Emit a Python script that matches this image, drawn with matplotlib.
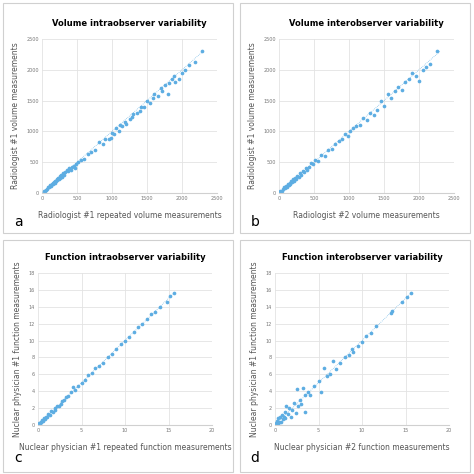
import matplotlib
matplotlib.use("Agg")
import matplotlib.pyplot as plt
from matplotlib.patches import Rectangle

# Panel a: volume intraobserver
a_x = [30,45,60,75,90,100,110,120,130,140,150,160,170,180,190,200,210,220,230,240,250,260,270,280,300,310,330,350,370,390,410,430,450,470,490,520,560,600,650,700,760,820,870,900,950,980,1000,1030,1060,1100,1120,1150,1180,1200,1250,1280,1300,1350,1400,1420,1450,1500,1540,1580,1600,1650,1700,1720,1760,1800,1820,1850,1880,1900,1950,2000,2050,2100,2180,2280]
a_y = [25,40,55,70,95,90,115,130,120,150,170,145,180,160,200,190,230,210,250,230,270,240,290,260,320,290,340,370,350,400,380,420,440,410,470,500,530,560,640,660,700,820,800,880,870,900,980,960,1050,1000,1100,1080,1150,1120,1200,1230,1280,1300,1330,1400,1390,1500,1460,1550,1600,1580,1700,1650,1750,1600,1780,1850,1900,1800,1850,1950,2000,2080,2120,2300]
# Panel b: volume interobserver
b_x = [20,40,55,70,85,100,110,125,140,150,160,175,190,200,215,230,245,260,280,300,320,340,360,380,400,430,460,490,520,560,600,650,700,750,800,850,900,940,980,1020,1060,1100,1150,1200,1250,1300,1350,1400,1450,1500,1550,1600,1650,1700,1750,1800,1850,1900,1950,2000,2050,2100,2150,2250]
b_y = [30,35,60,90,75,110,95,140,125,170,150,190,175,230,200,250,220,280,260,330,300,360,340,400,380,430,480,470,540,520,620,600,700,720,800,850,870,950,920,1000,1050,1080,1100,1220,1180,1300,1260,1350,1500,1420,1600,1550,1650,1720,1680,1800,1850,1950,1900,1820,2000,2050,2100,2300]
# Panel c: function intraobserver
c_x = [0.1,0.2,0.3,0.4,0.5,0.6,0.7,0.8,0.9,1.0,1.2,1.4,1.5,1.7,1.9,2.0,2.2,2.4,2.6,2.8,3.0,3.2,3.5,3.8,4.0,4.3,4.6,5.0,5.4,5.8,6.2,6.6,7.0,7.5,8.0,8.5,9.0,9.5,10.0,10.5,11.0,11.5,12.0,12.5,13.0,13.5,14.0,14.8,15.2,15.6]
c_y = [0.2,0.1,0.4,0.3,0.6,0.5,0.8,0.7,1.0,0.9,1.3,1.2,1.6,1.5,2.0,1.8,2.3,2.2,2.5,2.9,3.0,3.3,3.4,3.9,4.5,4.2,4.6,5.0,5.3,5.9,6.1,6.7,7.0,7.4,8.1,8.4,9.0,9.6,10.0,10.4,11.0,11.6,12.0,12.5,13.1,13.4,14.0,14.6,15.3,15.6]
# Panel d: function interobserver
d_x = [0.1,0.2,0.3,0.4,0.5,0.6,0.7,0.8,0.9,1.0,1.1,1.2,1.3,1.5,1.6,1.8,2.0,2.2,2.4,2.5,2.7,2.9,3.0,3.2,3.4,3.5,3.8,4.0,4.5,5.0,5.3,5.6,6.0,6.3,6.7,7.0,7.5,8.0,8.5,8.8,9.0,9.5,10.0,10.5,11.0,11.6,13.3,13.5,14.6,15.2,15.6]
d_y = [0.2,0.5,0.1,0.8,0.3,1.0,0.4,1.2,0.7,0.9,1.5,0.8,2.2,1.3,2.0,1.0,1.8,2.6,1.4,4.3,2.2,3.0,2.5,4.4,3.5,1.5,3.9,3.6,4.6,5.2,3.9,6.7,5.8,6.0,7.6,6.6,7.3,8.0,8.3,9.0,8.6,9.3,9.8,10.5,10.9,11.7,13.3,13.5,14.6,15.2,15.6]

panels = [
    dict(x=a_x, y=a_y, title="Volume intraobserver variability", xl="Radiologist #1 repeated volume measurements",
         yl="Radiologist #1 volume measurements", lim=2500, step=500, letter="a"),
    dict(x=b_x, y=b_y, title="Volume interobserver variability", xl="Radiologist #2 volume measurements",
         yl="Radiologist #1 volume measurements", lim=2500, step=500, letter="b"),
    dict(x=c_x, y=c_y, title="Function intraobserver variability", xl="Nuclear physician #1 repeated function measurements",
         yl="Nuclear physician #1 function measurements", lim=20, step=5, ylim=18, ystep=2, letter="c"),
    dict(x=d_x, y=d_y, title="Function interobserver variability", xl="Nuclear physician #2 function measurements",
         yl="Nuclear physician #1 function measurements", lim=20, step=5, ylim=18, ystep=2, letter="d"),
]

W = 474.0
fig = plt.figure(figsize=(4.74, 4.74), dpi=100)
col = "#5DADE2"
for i, p in enumerate(panels):
    ox = (i % 2) * 237
    oy = (i // 2) * 237
    bh = 230 if i < 2 else 232
    fig.patches.append(Rectangle(((ox + 3) / W, 1 - (oy + 3 + bh) / W), 230 / W, bh / W,
                                 transform=fig.transFigure, fill=False, ec="#d0d0d0", lw=0.8))
    if i < 2:
        l, r, t, b = 42, 217, 39, 193
        ly = 222
    else:
        l, r, t, b = 38, 212, 36, 188
        ly = 221
    ax = fig.add_axes([(ox + l) / W, 1 - (oy + b) / W, (r - l) / W, (b - t) / W])
    ylim = p.get("ylim", p["lim"]); ystep = p.get("ystep", p["step"])
    ax.set_xlim(0, p["lim"]); ax.set_ylim(0, ylim)
    ax.set_xticks(range(0, p["lim"] + 1, p["step"]))
    ax.set_yticks(range(0, ylim + 1, ystep))
    ax.grid(True, color="#e3e3e3", lw=0.6)
    ax.set_axisbelow(True)
    for s in ax.spines.values():
        s.set_visible(False)
    ax.spines["bottom"].set_visible(True); ax.spines["bottom"].set_color("#d0d0d0")
    ax.tick_params(length=0, labelsize=3.5, labelcolor="#777777", pad=2)
    mx = max(max(p["x"]), max(p["y"]))
    ax.plot([0, mx], [0, mx], color=col, lw=0.5, ls=":")
    ax.scatter(p["x"], p["y"], s=7, color=col, lw=0)
    ax.set_title(p["title"], fontsize=6, fontweight="bold", pad=9)
    ax.set_xlabel(p["xl"], fontsize=5.5, color="#555555", labelpad=7)
    ax.set_ylabel(p["yl"], fontsize=5.5, color="#555555", labelpad=5)
    fig.text((ox + 18) / W, 1 - (oy + ly) / W, p["letter"], fontsize=10, va="center", ha="center")

fig.savefig("out.png", dpi=100, facecolor="white")
